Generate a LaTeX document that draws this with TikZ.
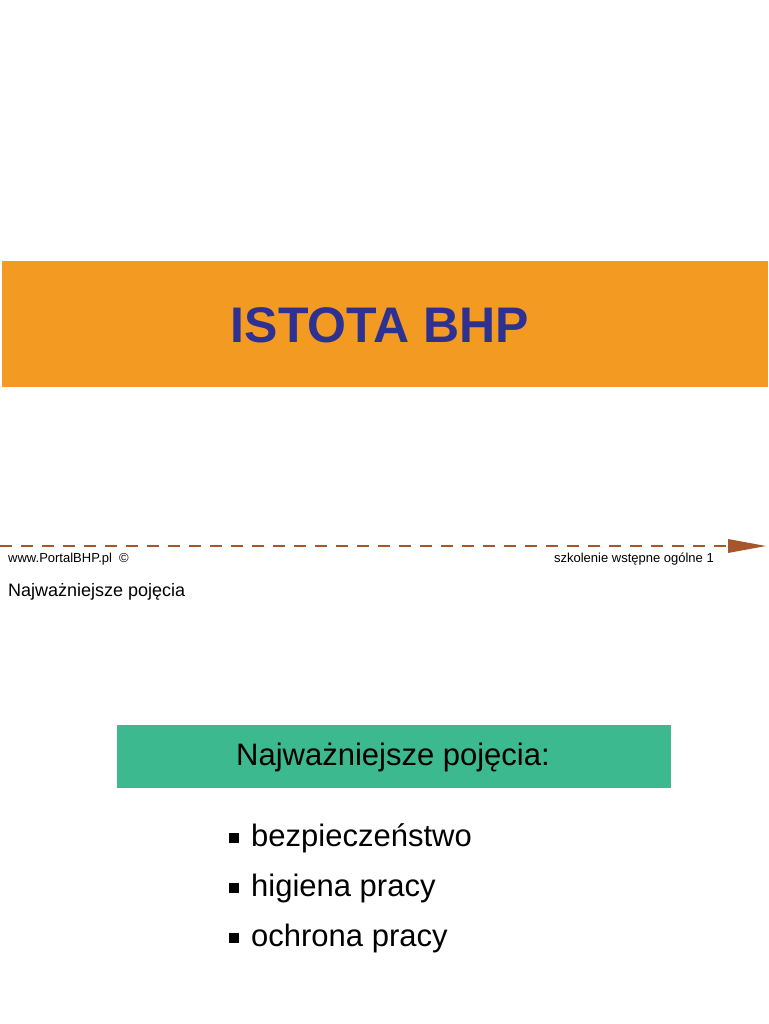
\documentclass[tikz,border=0pt]{standalone}
\usepackage{fontspec}
\setmainfont{Liberation Sans}
\definecolor{orng}{HTML}{F39A22}
\definecolor{ttl}{HTML}{2E3192}
\definecolor{brn}{HTML}{A5562B}
\definecolor{grn}{HTML}{3CB98F}
\begin{document}
\begin{tikzpicture}[x=1pt,y=-1pt,
  small/.style={font=\fontsize{13}{15}\selectfont,inner sep=0pt},
  big/.style={font=\fontsize{31}{36}\selectfont,inner sep=0pt}]
\useasboundingbox (0,0) rectangle (768,1024);
\fill[orng] (2,261) rectangle (768,387);
\node[font=\fontsize{50}{56}\selectfont\bfseries,text=ttl] (title) at (380,325) {ISTOTA BHP};
\coordinate (ls) at (0,546);
\coordinate (le) at (730,546);
\draw[brn,line width=2.5pt,dash pattern=on 12pt off 9pt] (ls) -- (le);
\fill[brn] (728,539) -- (766,546) -- (728,553) -- cycle;
\node[small,anchor=west] (www) at (8,559) {www.PortalBHP.pl \ ©};
\node[small,anchor=east] (sz) at (714,559) {szkolenie wstępne ogólne 1};
\node[font=\fontsize{18}{22}\selectfont,inner sep=0pt,anchor=west] (np) at (8,592) {Najważniejsze pojęcia};
\fill[grn] (117,725) rectangle (671,788);
\node[big] (hdr) at (393,757) {Najważniejsze pojęcia:};
\foreach \y/\t [count=\i] in {838/bezpieczeństwo,888/higiena pracy,938/ochrona pracy}{
  \fill (229,\y-5) rectangle (239,\y+5);
  \node[big,anchor=west] (b\i) at (251,\y) {\t};
}
\end{tikzpicture}
\end{document}
